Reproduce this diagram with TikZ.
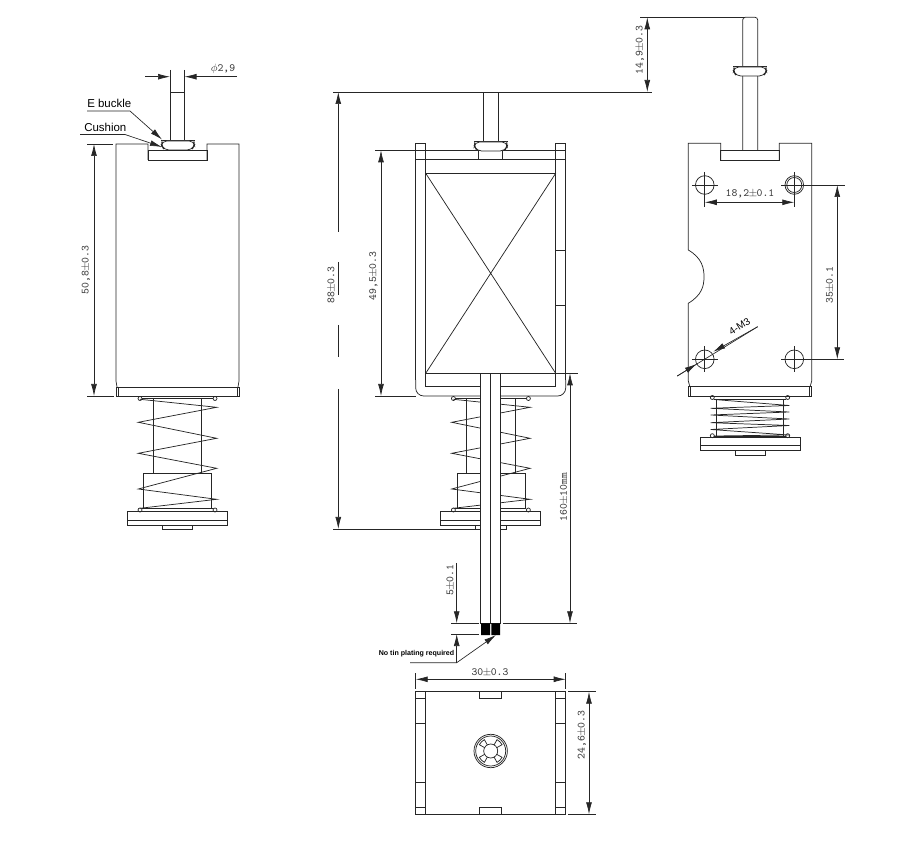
\documentclass[tikz,border=0pt]{standalone}
\usepackage{fontspec}
\newfontfamily\etiqueta{Liberation Sans}
\usetikzlibrary{arrows.meta}
\newcommand{\masmenos}{\kern-0.5pt$\pm$\kern-0.5pt}
\tikzset{
  pieza/.style={line width=0.55pt,color=black!85},
  cota/.style={line width=0.5pt,color=black!85},
  punta/.style={cota,-{Latex[length=9pt,width=4.4pt]}},
  flecha/.style={cota,{Latex[length=9pt,width=4.4pt]}-{Latex[length=9pt,width=4.4pt]}},
  medida/.style={font=\ttfamily\fontsize{8.3}{9}\selectfont,text=black!75,inner sep=0pt},
  rotulo/.style={font=\etiqueta\fontsize{8.6}{10}\selectfont,inner sep=0pt},
  ebuckle/.pic={
    \draw[pieza] (-17,0) -- (17,0);
    \draw[pieza,fill=white,rounded corners=3.5pt] (-16,1) -- (-16.5,5) -- (-14,10) -- (14,10) -- (16.5,5) -- (16,1) -- cycle;
  }
}
\begin{document}
\begin{tikzpicture}[x=0.75pt,y=-0.75pt]
\useasboundingbox (0,0) rectangle (908,852);
% Resortes (izquierda y centro)
\foreach \dx in {0,313.4} {
\begin{scope}[shift={(\dx,0)}]
\draw[pieza] (140,398.5) circle (2) (215,398.5) circle (2) (140,510) circle (2) (215,510) circle (2);
\draw[pieza] (142,398) -- (213,398);
\draw[pieza] (142,508) -- (213,508);
\draw[pieza] (153.3,398) -- (153.3,473);
\draw[pieza] (201.7,398) -- (201.7,473);
\draw[pieza] (143.5,508) -- (143.5,473) -- (211.7,473) -- (211.7,508);
\draw[pieza] (140,399.3) -- (216.7,407.3) -- (138.3,422.3) -- (216.7,438.3) -- (138.3,453.3) -- (216.7,468.3) -- (138.3,489) -- (216.7,499.3) -- (140,508.3);
\draw[pieza] (127,511.5) rectangle (227,525);
\draw[pieza] (127,520) -- (227,520);
\draw[pieza] (162,525) -- (162,529) -- (192.5,529) -- (192.5,525);
\end{scope}
}
% Vista izquierda
\draw[pieza] (170,140) -- (170,92) -- (184.5,92) -- (184.5,140);
\draw[pieza] (148,160) -- (148,144) -- (116,144) -- (116,381) -- (117,387);
\draw[pieza] (207,160) -- (207,144) -- (239,144) -- (239,381) -- (238,387);
\draw[pieza] (148,150) rectangle (207,160);
\draw[pieza] (116,387) rectangle (239,396);
\draw[pieza] (118,387) -- (118,396) (237,387) -- (237,396);
\pic at (178,140) {ebuckle};
% Cotas izquierda
\draw[cota] (170,70) -- (170,92) (184.5,70) -- (184.5,92);
\draw[punta] (145,76.7) -- (170,76.7);
\draw[punta] (237,76.7) -- (184.5,76.7);
\node[medida] (Fi) at (223,69) {$\phi$2,9};
\draw[cota] (87,144) -- (113,144) (87,396) -- (114,396);
\draw[flecha] (94,144) -- (94,396);
\node[medida,rotate=90] (Largo) at (86,270) {50,8\masmenos0.3};
% E buckle y Cushion
\node[rotulo,anchor=south west] (Ebuckle) at (87,108) {E buckle};
\node[rotulo,anchor=south west] (Cushion) at (84,132) {Cushion};
\coordinate (PuntaE) at (162,139.5);
\coordinate (PuntaC) at (162,147);
\draw[punta] (87,111) -- (130,111) -- (PuntaE);
\draw[punta] (80,134.5) -- (125,134.5) -- (PuntaC);
% Vista central
\draw[pieza] (483.3,141) -- (483.3,92) -- (498,92) -- (498,141);
\draw[pieza] (425.7,143.3) -- (415.7,143.3) -- (415.7,380);
\draw[pieza] (555.7,143.3) -- (565.7,143.3) -- (565.7,380);
\draw[pieza,rounded corners=6pt] (415.7,380) -- (415.7,396) -- (565.7,396) -- (565.7,380);
\draw[pieza] (425.7,143.3) -- (425.7,386.7) -- (555.7,386.7) -- (555.7,143.3);
\draw[pieza] (415.7,159.7) -- (565.7,159.7);
\draw[pieza] (555.7,150.3) -- (565.7,150.3);
\draw[pieza] (478.7,150.3) rectangle (502.3,159.7);
\draw[pieza] (425.7,173.3) rectangle (555.7,373.3);
\draw[pieza] (425.7,173.3) -- (555.7,373.3) (555.7,173.3) -- (425.7,373.3);
\draw[pieza] (555.7,250) -- (565.7,250) (555.7,305) -- (565.7,305);
% Cota superior de la bobina
\draw[cota] (375,150.3) -- (555.7,150.3) (375,396) -- (415.7,396);
\pic at (490.8,141) {ebuckle};
% Varilla
\draw[pieza,fill=white] (480.7,373.3) rectangle (500.3,623.3);
\draw[pieza] (490.7,373.3) -- (490.7,623.3);
\fill[black] (481,623.3) rectangle (490,635) (491.3,623.3) rectangle (500,635);
% Cotas centro
\draw[cota] (333,92) -- (652,92);
\draw[cota] (333,529) -- (475.7,529);
\draw[cota,{Latex[length=9pt,width=4.4pt]}-] (338.3,92) -- (338.3,232);
\draw[cota] (338.3,262) -- (338.3,295) (338.3,325) -- (338.3,357);
\draw[punta] (338.3,389) -- (338.3,529);
\node[medida,rotate=90] (Alto) at (331.5,285) {88\masmenos0.3};
\draw[flecha] (381,150.3) -- (381,396);
\node[medida,rotate=90] (Bobina) at (373.5,276) {49,5\masmenos0.3};
\draw[cota] (425.7,373.3) -- (578,373.3);
\draw[cota] (503,623.3) -- (577,623.3);
\draw[cota] (451,623.3) -- (479.3,623.3) (451,634) -- (479.3,634);
\draw[flecha] (570,373.3) -- (570,623.3);
\node[medida,rotate=90] (Cable) at (564,497) {160\masmenos10mm};
\draw[punta] (456.7,563) -- (456.7,623.3);
\draw[punta] (456.7,662.7) -- (456.7,634);
\node[medida,rotate=90] (Punta) at (450.5,580) {5\masmenos0.1};
\node[rotulo,font=\etiqueta\bfseries\fontsize{5.3}{7}\selectfont,anchor=east] (Estano) at (454.5,654) {No tin plating required};
\coordinate (PuntaN) at (496,635);
\draw[punta] (410,662.7) -- (456.7,662.7) -- (PuntaN);
% Vista inferior
\draw[pieza] (415.7,691.7) rectangle (565.7,814.3);
\draw[pieza] (425.7,691.7) -- (425.7,814.3) (555.7,691.7) -- (555.7,814.3);
\foreach \y in {698.3,723.3,782.7,807.3} {
\draw[pieza] (415.7,\y) -- (425.7,\y) (555.7,\y) -- (565.7,\y);
}
\draw[pieza] (479.3,691.7) -- (479.3,698.3) -- (501.7,698.3) -- (501.7,691.7);
\draw[pieza] (479.3,814.3) -- (479.3,807.3) -- (501.7,807.3) -- (501.7,814.3);
\begin{scope}[shift={(490.7,751)}]
\draw[pieza] (0,0) circle (16.7) (0,0) circle (15) (0,0) circle (7);
\foreach \a in {45,135,225,315} {
\draw[pieza] (\a-16:6.8) -- (\a-16:13) arc (\a-16:\a+16:13) -- (\a+16:6.8);
}
\end{scope}
\draw[cota] (415.7,673) -- (415.7,689) (565.7,673) -- (565.7,689);
\draw[flecha] (415.7,679.3) -- (565.7,679.3);
\node[medida] (Ancho) at (490,673) {30\masmenos0.3};
\draw[cota] (568,691.7) -- (596,691.7) (568,814.3) -- (596,814.3);
\draw[flecha] (589,691.7) -- (589,814.3);
\node[medida,rotate=90] (Fondo) at (582,735) {24,6\masmenos0.3};
% Vista derecha
\draw[pieza,rounded corners=2pt] (742.7,150) -- (742.7,17.3) -- (757.7,17.3) -- (757.7,150);
\draw[pieza] (720.7,160) -- (720.7,143.3) -- (688.3,143.3) -- (688.3,250) .. controls (702,258) and (704,268) .. (704,276.7) .. controls (704,286) and (702,295) .. (688.3,303.3) -- (688.3,381) -- (690,387);
\draw[pieza] (779.3,160) -- (779.3,143.3) -- (811.7,143.3) -- (811.7,381) -- (810,387);
\draw[pieza] (720.7,150) rectangle (779.3,160);
\draw[pieza] (688.3,386.7) rectangle (811.7,396.3);
\draw[pieza] (690.5,386.7) -- (690.5,396.3) (809.5,386.7) -- (809.5,396.3);
\pic at (750,66) {ebuckle};
% Agujeros
\foreach \cx/\cy in {704.8/185,794.3/185,704.8/359.3,794.3/359.3} {
\draw[pieza] (\cx,\cy) circle (9.3);
\draw[cota] (\cx-13,\cy) -- (\cx+13,\cy) (\cx,\cy-13) -- (\cx,\cy+13);
}
\draw[pieza] (794.3,185) circle (7.5);
% Resorte derecha
\draw[pieza] (712.3,397.5) circle (2) (787.7,397.5) circle (2) (712.3,435.7) circle (2) (787.7,435.7) circle (2);
\draw[pieza] (714,399) -- (786,399);
\draw[pieza] (714,436.7) -- (786,436.7);
\draw[pieza] (716.7,399) -- (716.7,436.7) (783.3,399) -- (783.3,436.7);
\draw[pieza] (714,399.5) -- (789.3,405.5) -- (710.7,408.3) -- (789.3,412) -- (710.7,415) -- (789.3,419) -- (710.7,422.7) -- (789.3,425.5) -- (710.7,429.5) -- (789.3,435) -- (714,436);
\draw[pieza] (700.7,437.3) rectangle (800,450.7);
\draw[pieza] (700.7,445) -- (800,445);
\draw[pieza] (735,450.7) -- (735,455) -- (765.7,455) -- (765.7,450.7);
% Cotas derecha
\draw[cota] (640,17.3) -- (745,17.3);
\draw[flecha] (647.3,17.3) -- (647.3,92);
\node[medida,rotate=90] (Eje) at (640,50) {14,9\masmenos0.3};
\draw[cota] (704.8,190) -- (704.8,207) (794.3,190) -- (794.3,207);
\draw[flecha] (704.8,202.3) -- (794.3,202.3);
\node[medida] (Entre) at (750,194) {18,2\masmenos0.1};
\draw[cota] (794.3,185) -- (845,185) (794.3,359.3) -- (844,359.3);
\draw[flecha] (837.3,185) -- (837.3,359.3);
\node[medida,rotate=90] (Paso) at (830,285) {35\masmenos0.1};
\coordinate (RoscaA) at (677.3,376);
\coordinate (RoscaB) at (757.7,326.7);
\draw[cota] (RoscaA) -- (RoscaB);
\draw[punta] (RoscaA) -- (696.7,364);
\draw[punta] (RoscaB) -- (713.3,351.7);
\node[rotulo,rotate=32,font=\etiqueta\fontsize{7.5}{9}\selectfont] (Rosca) at (739.5,326.5) {4-M3};
\end{tikzpicture}
\end{document}
